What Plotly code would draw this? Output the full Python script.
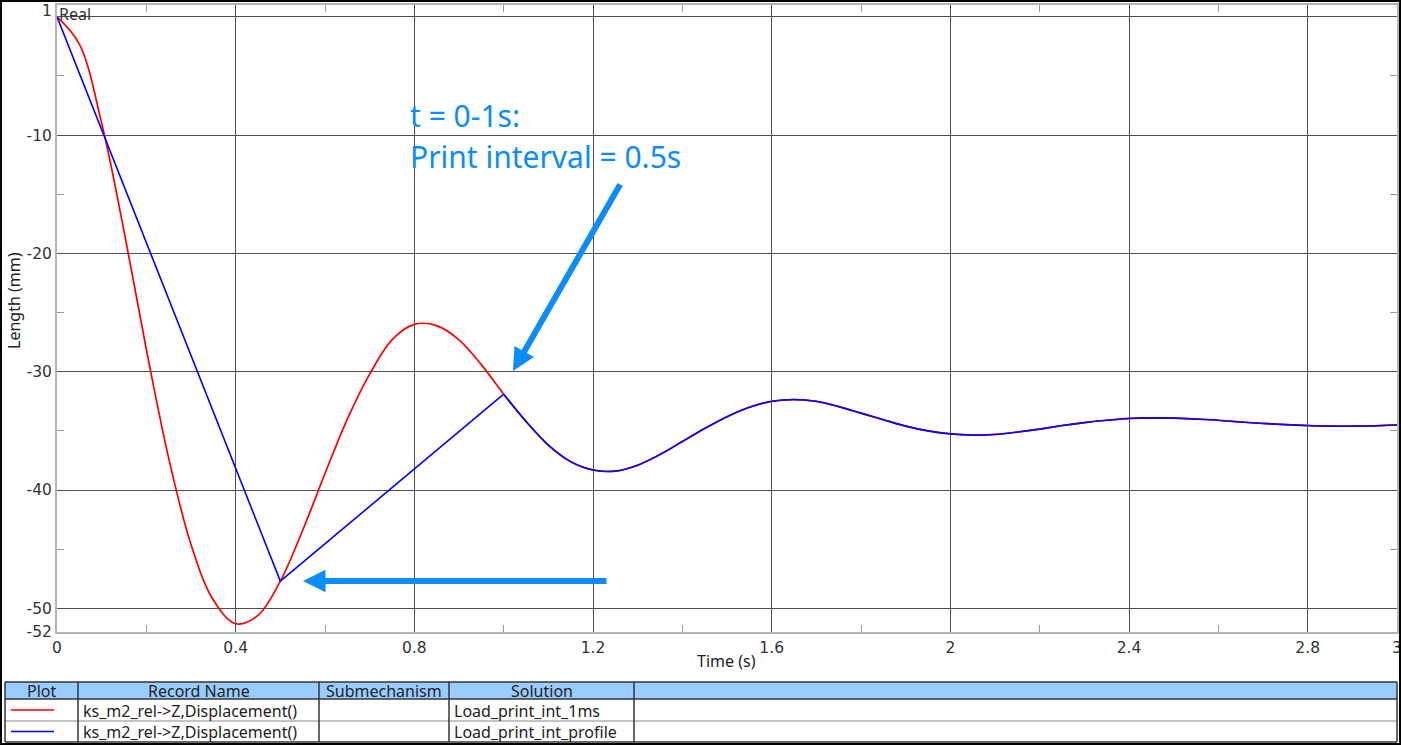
import plotly.graph_objects as go

W, H = 1401, 745
PL, PR, PT, PB = 57, 1397, 5, 632  # plot-area pixel bounds

# ---------------- data ----------------
time_s = [0.00, 0.05, 0.10, 0.15, 0.20, 0.25, 0.30, 0.35, 0.40, 0.45,
          0.50, 0.55, 0.60, 0.65, 0.70, 0.75, 0.80, 0.85, 0.90, 0.95,
          1.00, 1.05, 1.10, 1.15, 1.20, 1.25, 1.30, 1.35, 1.40, 1.45,
          1.50, 1.55, 1.60, 1.65, 1.70, 1.75, 1.80, 1.85, 1.90, 1.95,
          2.00, 2.05, 2.10, 2.15, 2.20, 2.25, 2.30, 2.35, 2.40, 2.45,
          2.50, 2.55, 2.60, 2.65, 2.70, 2.75, 2.80, 2.85, 2.90, 2.95, 3.00]
disp_1ms = [0.0, -2.3, -9.0, -18.1, -28.1, -37.3, -44.6, -49.3, -51.3, -50.6,
            -47.7, -43.4, -38.6, -34.0, -30.2, -27.3, -26.0, -26.1, -27.3, -29.4,
            -31.9, -34.2, -36.2, -37.6, -38.3, -38.4, -37.9, -37.0, -35.9, -34.8,
            -33.8, -33.0, -32.5, -32.35, -32.5, -32.95, -33.5, -34.05, -34.6, -35.0,
            -35.25, -35.35, -35.3, -35.1, -34.85, -34.55, -34.3, -34.1, -33.95, -33.9,
            -33.92, -34.0, -34.1, -34.25, -34.37, -34.47, -34.55, -34.6, -34.6, -34.57, -34.5]
profile_time = [0.0, 0.5, 1.0]
profile_disp = [0.0, -47.7, -31.9]
profile_switch_index = 20  # after t = 1 s the profile run prints every 1 ms

x_ticks = [0, 0.4, 0.8, 1.2, 1.6, 2.0, 2.4, 2.8, 3.0]
x_tick_text = ["0", "0.4", "0.8", "1.2", "1.6", "2", "2.4", "2.8", "3"]
x_minor = [0.2, 0.6, 1.0, 1.4, 1.8, 2.2, 2.6]
y_ticks = [-52, -50, -40, -30, -20, -10, 0]
y_tick_text = ["-52", "-50", "-40", "-30", "-20", "-10", ""]
y_minor = [-45, -35, -25, -15, -5]

table_header = ["Plot", "Record Name", "Submechanism", "Solution"]
record_names = ["ks_m2_rel->Z,Displacement()", "ks_m2_rel->Z,Displacement()"]
solutions = ["Load_print_int_1ms", "Load_print_int_profile"]
series_colors = ["#ff0000", "#0000ff"]


def px(x):
    return x / W


def py(y):
    return 1 - y / H


fig = go.Figure()
fig.add_trace(go.Scatter(x=time_s, y=disp_1ms, mode="lines",
                         line=dict(color=series_colors[0], width=1.7, shape="spline", smoothing=1.0),
                         showlegend=False, hoverinfo="skip"))
fig.add_trace(go.Scatter(x=profile_time, y=profile_disp, mode="lines",
                         line=dict(color=series_colors[1], width=1.6),
                         showlegend=False, hoverinfo="skip"))
fig.add_trace(go.Scatter(x=time_s[profile_switch_index:], y=disp_1ms[profile_switch_index:], mode="lines",
                         line=dict(color=series_colors[1], width=1.6, shape="spline", smoothing=1.0),
                         showlegend=False, hoverinfo="skip"))

grid_col = "#505050"
axis_col = "#b4b4b4"
tickfont = dict(family="DejaVu Sans", size=15.5, color="#333333")

fig.update_layout(
    width=W, height=H,
    margin=dict(l=0, r=0, t=0, b=0),
    paper_bgcolor="white", plot_bgcolor="white",
    showlegend=False,
    xaxis=dict(domain=[px(PL), px(PR)], range=[0, 3], tickmode="array",
               tickvals=x_ticks, ticktext=x_tick_text, showgrid=True,
               gridcolor=grid_col, gridwidth=1, showline=True, linecolor=axis_col,
               linewidth=2, mirror="ticks", ticks="", zeroline=False,
               automargin=False, tickfont=tickfont, ticklabeloverflow="allow",
               minor=dict(tickmode="array", tickvals=x_minor, ticks="inside", ticklen=7,
                          tickcolor="#999999", tickwidth=1, showgrid=False)),
    yaxis=dict(domain=[py(PB), py(PT)], range=[-52, 1], tickmode="array",
               tickvals=y_ticks, ticktext=y_tick_text, showgrid=True,
               gridcolor=grid_col, gridwidth=1, showline=True, linecolor=axis_col,
               linewidth=2, mirror="ticks", ticks="", zeroline=False,
               automargin=False, tickfont=tickfont, ticklabeloverflow="allow",
               minor=dict(tickmode="array", tickvals=y_minor, ticks="inside", ticklen=7,
                          tickcolor="#999999", tickwidth=1, showgrid=False)),
)

ann = []
txt_font = dict(family="Noto Sans", size=16, color="#222222")
row_font = dict(family="Noto Sans", size=16, color="#222222")
# top tick label and "Real"
ann.append(dict(x=px(54), y=py(11), xref="paper", yref="paper", text="1", showarrow=False,
                xanchor="right", yanchor="middle", font=tickfont))
ann.append(dict(x=px(57), y=py(14), xref="paper", yref="paper", text="Real", showarrow=False,
                xanchor="left", yanchor="middle", font=dict(family="Noto Sans", size=16, color="#333333")))
# axis titles
ann.append(dict(x=px(14), y=py(301), xref="paper", yref="paper", text="Length (mm)", showarrow=False,
                textangle=-90, xanchor="center", yanchor="middle", font=txt_font))
ann.append(dict(x=px(727), y=py(661), xref="paper", yref="paper", text="Time (s)", showarrow=False,
                xanchor="center", yanchor="middle", font=txt_font))
# blue callout
blue = "#0a8cff"
callout_font = dict(family="Noto Sans", size=30, color=blue)
ann.append(dict(x=px(408), y=py(116), xref="paper", yref="paper", text="t = 0-1s:", showarrow=False,
                xanchor="left", yanchor="middle", font=callout_font))
ann.append(dict(x=px(408), y=py(156), xref="paper", yref="paper", text="Print interval = 0.5s",
                showarrow=False, xanchor="left", yanchor="middle", font=callout_font))
ann.append(dict(x=px(513), y=py(371), xref="paper", yref="paper", text="", showarrow=True,
                ax=621 - 513, ay=183 - 371, arrowcolor=blue, arrowwidth=6, arrowhead=2, arrowsize=0.75))
ann.append(dict(x=px(303), y=py(581), xref="paper", yref="paper", text="", showarrow=True,
                ax=608 - 303, ay=0, arrowcolor=blue, arrowwidth=6, arrowhead=2, arrowsize=0.75))

# ---------------- table ----------------
shapes = []
TL, TR = 5, 1397
y_top, y_hdr, y_r1, y_r2 = 682, 699, 721, 742
col_x = [5, 78, 319, 449, 634, 1397]
shapes.append(dict(type="rect", xref="paper", yref="paper", x0=px(TL), x1=px(TR), y0=py(y_top), y1=py(y_hdr),
                   fillcolor="#99ccff", line=dict(width=0), layer="below"))
for yy, c, w in [(y_top, "#333333", 1.5), (y_hdr, "#333333", 1.5), (y_r1, "#888888", 1), (y_r2, "#333333", 1.5)]:
    shapes.append(dict(type="line", xref="paper", yref="paper", x0=px(TL), x1=px(TR), y0=py(yy), y1=py(yy),
                       line=dict(color=c, width=w)))
for i, xx in enumerate(col_x):
    shapes.append(dict(type="line", xref="paper", yref="paper", x0=px(xx), x1=px(xx), y0=py(y_top), y1=py(y_r2),
                       line=dict(color="#333333", width=1.5)))
header_centers = [(col_x[i] + col_x[i + 1]) / 2 for i in range(4)]
for h, cx in zip(table_header, header_centers):
    ann.append(dict(x=px(cx), y=py((y_top + y_hdr) / 2 + 0.5), xref="paper", yref="paper", text=h,
                    showarrow=False, xanchor="center", yanchor="middle", font=txt_font))
row_mid = [(y_hdr + y_r1) / 2, (y_r1 + y_r2) / 2]
for i in range(2):
    shapes.append(dict(type="line", xref="paper", yref="paper", x0=px(11), x1=px(54), y0=py(row_mid[i]),
                       y1=py(row_mid[i]), line=dict(color=series_colors[i], width=1.5)))
    ann.append(dict(x=px(81), y=py(row_mid[i] + 0.5), xref="paper", yref="paper", text=record_names[i],
                    showarrow=False, xanchor="left", yanchor="middle", font=row_font))
    ann.append(dict(x=px(452), y=py(row_mid[i] + 0.5), xref="paper", yref="paper", text=solutions[i],
                    showarrow=False, xanchor="left", yanchor="middle", font=row_font))

# outer image border
shapes.append(dict(type="rect", xref="paper", yref="paper", x0=px(1), x1=px(1400), y0=py(1), y1=py(744),
                   line=dict(color="black", width=2), fillcolor="rgba(0,0,0,0)"))

fig.update_layout(annotations=ann, shapes=shapes)

fig.write_html("out.html", config={"displayModeBar": False},
               post_script="document.body.style.margin='0px';document.body.style.overflow='hidden';")
